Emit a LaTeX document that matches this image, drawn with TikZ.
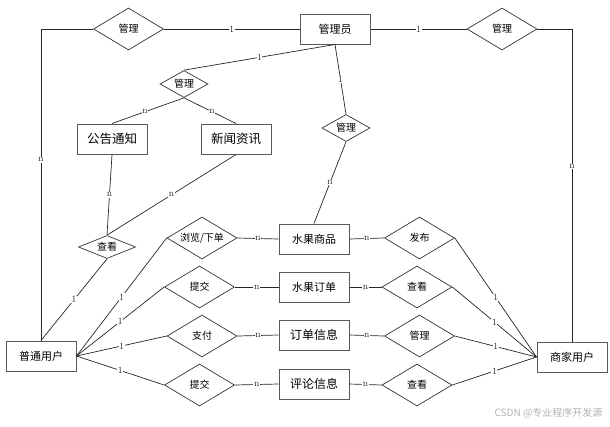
\documentclass[tikz,border=0pt]{standalone}
\usepackage{fontspec}
\newfontfamily\cjk{Noto Sans CJK SC}
\usetikzlibrary{shapes.geometric}

\begin{document}
\begin{tikzpicture}[x=1pt,y=-1pt,
	entity/.style={draw=black!65,line width=1pt,fill=white,minimum width=70pt,minimum height=30pt,inner sep=0pt,font=\cjk\fontsize{11}{12}\selectfont},
	relation/.style={draw=black!80,line width=0.7pt,diamond,aspect=1.66,inner sep=0pt,minimum width=70pt,minimum height=42pt,font=\cjk\fontsize{10}{11}\selectfont},
	small/.style={aspect=1.8,minimum width=48pt,minimum height=27pt},
	card/.style={fill=white,inner sep=0.6pt,font=\fontsize{9.5}{10}\selectfont},
	link/.style={line width=0.7pt,black!85}]
	\useasboundingbox (0,0) rectangle (610,426);

	% entities
	\node[entity] (admin) at (335,29) {管理员};
	\node[entity] (notice) at (112,139) {\fontsize{12.5}{14}\selectfont 公告通知};
	\node[entity] (news) at (236,139) {\fontsize{12.5}{14}\selectfont 新闻资讯};
	\node[entity] (user) at (41,356) {普通用户};
	\node[entity] (seller) at (572,357) {商家用户};
	\node[entity] (fruit) at (314,239) {水果商品};
	\node[entity] (order) at (314,287) {水果订单};
	\node[entity] (info) at (314,335) {\fontsize{12}{13}\selectfont 订单信息};
	\node[entity] (review) at (314,384) {\fontsize{12}{13}\selectfont 评论信息};

	% relations
	\node[relation] (mgrL) at (128.5,29) {管理};
	\node[relation] (mgrR) at (502,29) {管理};
	\node[relation,small] (mgrN) at (184,84) {管理};
	\node[relation,small] (mgrF) at (346,128) {管理};
	\node[relation,aspect=2.5,minimum width=57pt,minimum height=23pt] (see) at (107,247) {查看};
	\node[relation] (browse) at (202,238) {浏览/下单};
	\node[relation] (submitO) at (199.5,287) {提交};
	\node[relation] (pay) at (202,336) {支付};
	\node[relation] (submitR) at (199.5,385) {提交};
	\node[relation] (publish) at (419.5,238) {发布};
	\node[relation] (seeO) at (417,287) {查看};
	\node[relation] (mgrI) at (419.5,336) {管理};
	\node[relation] (seeR) at (417,385) {查看};

	% top part
	\draw[link] (mgrL.east) -- node[card] {1} (admin.west);
	\draw[link] (admin.east) -- node[card] {1} (mgrR.west);
	\draw[link] (mgrL.west) -| node[card,pos=0.71] {n} (user.north);
	\draw[link] (mgrR.east) -| node[card,pos=0.72] {n} (seller.north);
	\draw[link] (mgrN.north) -- node[card] {1} (admin.south);
	\draw[link] (admin.south) -- node[card] {1} (mgrF.north);
	\draw[link] (mgrF.south) -- node[card] {n} (fruit.north);
	\draw[link] (mgrN.south) -- node[card,pos=0.54] {n} (notice.north);
	\draw[link] (mgrN.south) -- node[card,pos=0.54] {n} (news.north);
	\draw[link] (notice.south) -- node[card] {n} (see.north);
	\draw[link] (news.south) -- node[card] {n} (see.north);
	\draw[link] (see.south) -- node[card] {1} (user.north);

	% user side
	\foreach \r/\e in {browse/fruit,submitO/order,pay/info,submitR/review}{
		\draw[link] (user.east) -- node[card] {1} (\r.west);
		\draw[link] (\r.east) -- node[card] {n} (\e.west);
	}
	% seller side
	\foreach \r/\e in {publish/fruit,seeO/order,mgrI/info,seeR/review}{
		\draw[link] (\e.east) -- node[card] {n} (\r.west);
		\draw[link] (\r.east) -- node[card] {1} (seller.west);
	}

	\node[text=black!30,anchor=east,font=\cjk\fontsize{10}{11}\selectfont] (mark) at (606,413) {CSDN @专业程序开发源};
\end{tikzpicture}
\end{document}
